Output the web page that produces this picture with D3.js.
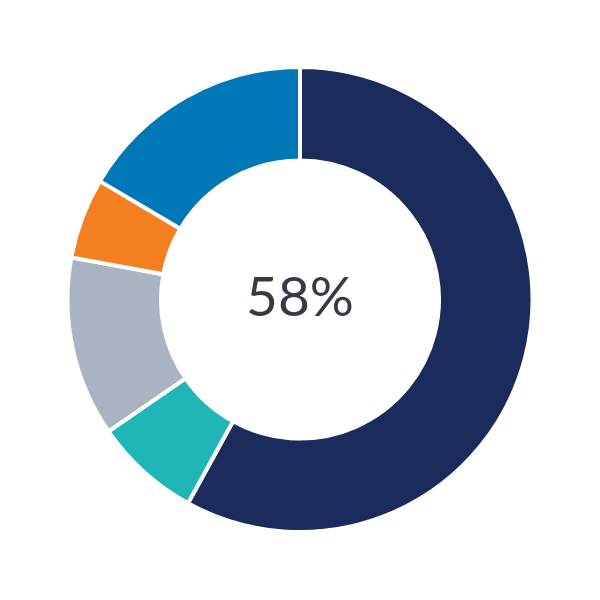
<!DOCTYPE html>
<html>
<head>
<meta charset="utf-8">
<script src="https://cdn.jsdelivr.net/npm/d3@7"></script>
<style>
	body { margin: 0; background: #fff; }
	svg { display: block; }
</style>
</head>
<body>
<svg id="chart" width="600" height="600"></svg>
<script>
// slice shares, clockwise from 12 o'clock
var slice_names = ["A", "B", "C", "D", "E"];
var slice_values = [58, 7.4, 12.5, 5.6, 16.5];
var slice_colors = ["#1b2b5b", "#1fb6b8", "#a9b3c1", "#f37f21", "#0077b6"];
var center_label = "58%";

var svg = d3.select("#chart");
var g = svg.append("g")
	.attr("transform", "translate(300,299.5)");

var pie = d3.pie()
	.sort(null)
	.value(function(d){ return d; });

var arc = d3.arc()
	.innerRadius(139)
	.outerRadius(232.5);

//slices
g.selectAll(".slice")
	.data(pie(slice_values))
.enter().append("path")
	.attr("class", "slice")
	.attr("d", arc)
	.style("fill", function(d, i){ return slice_colors[i]; })
	.style("stroke", "#fff")
	.style("stroke-width", 4)
	.style("stroke-linejoin", "miter");

//center text
g.append("text")
	.attr("text-anchor", "middle")
	.attr("dy", "0.35em")
	.attr("y", -3)
	.style("font-family", "Lato, sans-serif")
	.style("font-size", "55px")
	.style("fill", "#353b45")
	.text(center_label);
</script>
</body>
</html>
